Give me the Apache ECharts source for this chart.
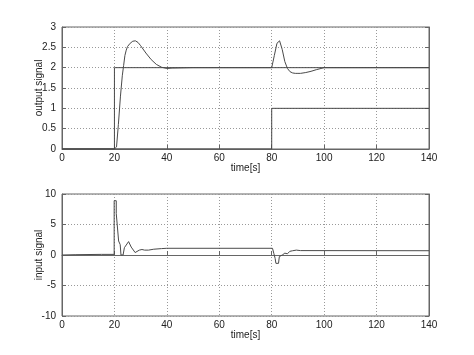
<!DOCTYPE html>
<html>
<head>
<meta charset="utf-8">
<script src="https://cdn.jsdelivr.net/npm/echarts@6/dist/echarts.min.js"></script>
<style>
  html, body { margin: 0; padding: 0; background: #fff; }
  #chart { width: 474px; height: 355px; }
</style>
</head>
<body>
<div id="chart"></div>
<script>
// top plot: output signal
const outT = [0, 20, 20.8, 21.5, 22.3, 23, 23.5, 24, 24.5, 25, 26, 27, 28, 29, 30, 32, 34, 36, 38, 40, 42, 50, 80, 81, 82, 83, 84, 85, 86, 87, 88, 89, 90, 91, 93, 95, 97, 100, 140];
const outY = [0, 0, 0.05, 0.6, 1.3, 1.8, 2.05, 2.3, 2.43, 2.52, 2.6, 2.65, 2.66, 2.62, 2.54, 2.36, 2.2, 2.08, 2.01, 1.98, 1.99, 2.0, 2.0, 2.3, 2.6, 2.66, 2.45, 2.15, 1.98, 1.9, 1.87, 1.86, 1.86, 1.86, 1.88, 1.91, 1.95, 2.0, 2.0];
// reference steps
const refT = [0, 20, 20, 140];
const refY = [0, 0, 2, 2];
const stepT = [0, 80, 80, 140];
const stepY = [0, 0, 1, 1];
// bottom plot: input signal
const inT = [0, 5, 15, 19.9, 19.9, 20.7, 20.7, 21.4, 21.6, 22.2, 22.5, 23.3, 23.8, 24.4, 25.4, 25.8, 26.4, 27.0, 27.9, 28.5, 29.5, 30.5, 31.5, 33, 35, 38, 40, 80.3, 80.8, 81.3, 81.6, 82.6, 82.9, 84.2, 85, 86, 86.9, 88, 89.4, 91, 140];
const inY = [0, 0.05, 0.1, 0.1, 8.9, 8.9, 6.8, 6.6, 2.3, 1.7, 0, 0, 1.2, 1.5, 2.2, 2.1, 1.3, 1.2, 0.4, 0.5, 0.8, 0.9, 0.8, 0.8, 0.95, 1.05, 1.1, 1.1, 0.27, -0.55, -1.37, -1.37, -0.27, 0.05, 0.3, 0.2, 0.6, 0.7, 0.8, 0.72, 0.7];

const zip = (a, b) => a.map((v, i) => [v, b[i]]);

const textColor = '#222';
const font = 'Liberation Sans';
const lineColor = '#4a4a4a';

const makeX = (gi) => ({
  type: 'value', gridIndex: gi, min: 0, max: 140, interval: 20,
  name: 'time[s]', nameLocation: 'middle', nameGap: 14, nameMoveOverlap: false,
  nameTextStyle: { color: textColor, fontSize: 10, fontFamily: font, verticalAlign: 'top' },
  axisLine: { lineStyle: { color: '#666' } },
  axisTick: { inside: true, length: 4, lineStyle: { color: '#666' } },
  axisLabel: { color: textColor, fontSize: 10, fontFamily: font, margin: 4 },
  splitLine: { show: true, lineStyle: { color: '#999', type: [1, 2], width: 1 } }
});

const makeY = (gi, min, max, interval, name) => ({
  type: 'value', gridIndex: gi, min: min, max: max, interval: interval,
  name: name, nameLocation: 'middle', nameGap: 18, nameMoveOverlap: false,
  nameTextStyle: { color: textColor, fontSize: 10, fontFamily: font },
  axisLine: { show: true, lineStyle: { color: '#666' } },
  axisTick: { show: true, inside: true, length: 4, lineStyle: { color: '#666' } },
  axisLabel: { color: textColor, fontSize: 10, fontFamily: font, margin: 6 },
  splitLine: { show: true, lineStyle: { color: '#999', type: [1, 2], width: 1 } }
});

const makeYRight = (gi, min, max, interval) => ({
  type: 'value', gridIndex: gi, min: min, max: max, interval: interval, position: 'right',
  axisLine: { show: true, lineStyle: { color: '#666' } },
  axisTick: { show: true, inside: true, length: 4, lineStyle: { color: '#666' } },
  axisLabel: { show: false },
  splitLine: { show: false }
});

const lineSeries = (xi, yi, data) => ({
  type: 'line', xAxisIndex: xi, yAxisIndex: yi, data: data,
  showSymbol: false, symbol: 'none', animation: false,
  lineStyle: { color: lineColor, width: 1 }
});

const chart = echarts.init(document.getElementById('chart'));
chart.setOption({
  backgroundColor: '#fff',
  animation: false,
  grid: [
    { left: 62, right: 45, top: 27, height: 122, show: true, borderColor: '#666', borderWidth: 1 },
    { left: 62, right: 45, top: 194, height: 122, show: true, borderColor: '#666', borderWidth: 1 }
  ],
  xAxis: [makeX(0), makeX(1)],
  yAxis: [
    makeY(0, 0, 3, 0.5, 'output signal'),
    makeY(1, -10, 10, 5, 'input signal'),
    makeYRight(0, 0, 3, 0.5),
    makeYRight(1, -10, 10, 5)
  ],
  series: [
    lineSeries(0, 0, zip(refT, refY)),
    lineSeries(0, 0, zip(stepT, stepY)),
    lineSeries(0, 0, zip(outT, outY)),
    lineSeries(1, 1, zip(inT, inY))
  ]
});
</script>
</body>
</html>
